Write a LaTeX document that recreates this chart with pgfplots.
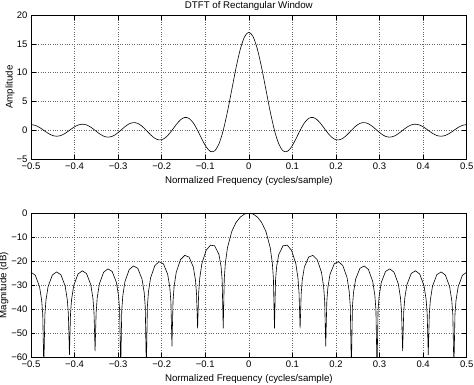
\documentclass[border=0pt]{standalone}
\usepackage{fontspec}
\setmainfont{Liberation Sans}
\usepackage{pgfplots}
\usepackage{pgfplotstable}
\pgfplotsset{compat=1.18}

\pgfplotstableread{
f amp
-0.5 1.000
-0.490196 0.866
-0.480392 0.501
-0.470588 0
-0.460784 -0.504
-0.450980 -0.876
-0.441176 -1.017
-0.431373 -0.887
-0.421569 -0.516
-0.411765 0
-0.401961 0.525
-0.392157 0.918
-0.382353 1.072
-0.372549 0.940
-0.362745 0.550
-0.352941 0
-0.343137 -0.568
-0.333333 -1.000
-0.323529 -1.176
-0.313725 -1.039
-0.303922 -0.613
-0.294118 0
-0.284314 0.642
-0.274510 1.140
-0.264706 1.353
-0.254902 1.206
-0.245098 0.718
-0.235294 0
-0.225490 -0.768
-0.215686 -1.381
-0.205882 -1.659
-0.196078 -1.499
-0.186275 -0.905
-0.176471 0
-0.166667 1.000
-0.156863 1.831
-0.147059 2.243
-0.137255 2.072
-0.127451 1.283
-0.117647 0
-0.107843 -1.504
-0.098039 -2.857
-0.088235 -3.654
-0.078431 -3.551
-0.068627 -2.337
-0.058824 0
-0.049020 3.260
-0.039216 7.047
-0.029412 10.838
-0.019608 14.068
-0.009804 16.236
0 17
0.009804 16.236
0.019608 14.068
0.029412 10.838
0.039216 7.047
0.049020 3.260
0.058824 0
0.068627 -2.337
0.078431 -3.551
0.088235 -3.654
0.098039 -2.857
0.107843 -1.504
0.117647 0
0.127451 1.283
0.137255 2.072
0.147059 2.243
0.156863 1.831
0.166667 1.000
0.176471 0
0.186275 -0.905
0.196078 -1.499
0.205882 -1.659
0.215686 -1.381
0.225490 -0.768
0.235294 0
0.245098 0.718
0.254902 1.206
0.264706 1.353
0.274510 1.140
0.284314 0.642
0.294118 0
0.303922 -0.613
0.313725 -1.039
0.323529 -1.176
0.333333 -1.000
0.343137 -0.568
0.352941 0
0.362745 0.550
0.372549 0.940
0.382353 1.072
0.392157 0.918
0.401961 0.525
0.411765 0
0.421569 -0.516
0.431373 -0.887
0.441176 -1.017
0.450980 -0.876
0.460784 -0.504
0.470588 0
0.480392 0.501
0.490196 0.866
0.5 1.000
}\amptable

\pgfplotstableread{
f db
-0.5 -24.609
-0.490196 -25.859
-0.480392 -30.612
-0.475490 -36.32
-0.473039 -42.26
-0.470588 -65
-0.468137 -42.25
-0.465686 -36.30
-0.460784 -30.560
-0.450980 -25.759
-0.441176 -24.462
-0.431373 -25.651
-0.421569 -30.356
-0.416667 -36.05
-0.414216 -41.98
-0.411765 -59
-0.409314 -41.94
-0.406863 -35.97
-0.401961 -30.206
-0.392157 -25.352
-0.382353 -24.005
-0.372549 -25.147
-0.362745 -29.802
-0.357843 -35.45
-0.355392 -41.37
-0.352941 -57.4
-0.350490 -41.30
-0.348039 -35.32
-0.343137 -29.522
-0.333333 -24.609
-0.323529 -23.201
-0.313725 -24.277
-0.303922 -28.860
-0.299020 -34.49
-0.296569 -40.38
-0.294118 -65
-0.291667 -40.28
-0.289216 -34.29
-0.284314 -28.458
-0.274510 -23.471
-0.264706 -21.983
-0.254902 -22.982
-0.245098 -27.487
-0.240196 -33.06
-0.237745 -38.94
-0.235294 -65
-0.232843 -38.79
-0.230392 -32.77
-0.225490 -26.902
-0.215686 -21.805
-0.205882 -20.212
-0.196078 -21.093
-0.186275 -25.476
-0.181373 -30.99
-0.178922 -36.83
-0.176471 -55.5
-0.174020 -36.61
-0.171569 -30.55
-0.166667 -24.609
-0.156863 -19.355
-0.147059 -17.593
-0.137255 -18.281
-0.127451 -22.445
-0.122549 -27.84
-0.120098 -33.62
-0.117647 -48
-0.115196 -33.27
-0.112745 -27.14
-0.107843 -21.064
-0.098039 -15.491
-0.088235 -13.354
-0.078431 -13.603
-0.068627 -17.236
-0.063725 -22.29
-0.061275 -27.91
-0.058824 -48
-0.056373 -27.19
-0.053922 -20.85
-0.049020 -14.344
-0.039216 -7.649
-0.029412 -3.910
-0.019608 -1.644
-0.009804 -0.399
0 0
0.009804 -0.399
0.019608 -1.644
0.029412 -3.910
0.039216 -7.649
0.049020 -14.344
0.053922 -20.85
0.056373 -27.19
0.058824 -48
0.061275 -27.91
0.063725 -22.29
0.068627 -17.236
0.078431 -13.603
0.088235 -13.354
0.098039 -15.491
0.107843 -21.064
0.112745 -27.14
0.115196 -33.27
0.117647 -48
0.120098 -33.62
0.122549 -27.84
0.127451 -22.445
0.137255 -18.281
0.147059 -17.593
0.156863 -19.355
0.166667 -24.609
0.171569 -30.55
0.174020 -36.61
0.176471 -55.5
0.178922 -36.83
0.181373 -30.99
0.186275 -25.476
0.196078 -21.093
0.205882 -20.212
0.215686 -21.805
0.225490 -26.902
0.230392 -32.77
0.232843 -38.79
0.235294 -65
0.237745 -38.94
0.240196 -33.06
0.245098 -27.487
0.254902 -22.982
0.264706 -21.983
0.274510 -23.471
0.284314 -28.458
0.289216 -34.29
0.291667 -40.28
0.294118 -65
0.296569 -40.38
0.299020 -34.49
0.303922 -28.860
0.313725 -24.277
0.323529 -23.201
0.333333 -24.609
0.343137 -29.522
0.348039 -35.32
0.350490 -41.30
0.352941 -57.4
0.355392 -41.37
0.357843 -35.45
0.362745 -29.802
0.372549 -25.147
0.382353 -24.005
0.392157 -25.352
0.401961 -30.206
0.406863 -35.97
0.409314 -41.94
0.411765 -59
0.414216 -41.98
0.416667 -36.05
0.421569 -30.356
0.431373 -25.651
0.441176 -24.462
0.450980 -25.759
0.460784 -30.560
0.465686 -36.30
0.468137 -42.25
0.470588 -65
0.473039 -42.26
0.475490 -36.32
0.480392 -30.612
0.490196 -25.859
0.5 -24.609
}\dbtable

\pgfplotsset{
  mstyle/.style={
    scale only axis, width=435.7pt, height=144.2pt, anchor=south west,
    xmin=-0.5, xmax=0.5,
    xtick={-0.5,-0.4,-0.3,-0.2,-0.1,0,0.1,0.2,0.3,0.4,0.5},
    xticklabels={−0.5,−0.4,−0.3,−0.2,−0.1,0,0.1,0.2,0.3,0.4,0.5},
    tick align=inside, tick pos=both, ticklabel pos=left,
    major tick length=4.5pt,
    grid=major, major grid style={black!60, dotted, line width=0.5pt},
    axis line style={line width=0.7pt},
    tick style={black, line width=0.6pt},
    every tick label/.append style={font=\fontsize{9.5}{11}\selectfont},
    label style={font=\fontsize{9.7}{11}\selectfont},
    xlabel={Normalized Frequency (cycles/sample)},
    xlabel style={at={(axis description cs:0.5,-0.148)}, anchor=center},
    title style={font=\fontsize{9.7}{11}\selectfont},
  }
}

\begin{document}
\begin{tikzpicture}
\begin{axis}[mstyle, at={(31pt,224.8pt)},
  ymin=-5, ymax=20, ytick={-5,0,5,10,15,20},
  yticklabels={−5,0,5,10,15,20},
  ylabel={Amplitude},
  ylabel style={at={(axis description cs:-0.048,0.5)}, anchor=center},
  title={DTFT of Rectangular Window},
  title style={at={(axis description cs:0.5,1)}, anchor=base, yshift=1.0pt},
]
\addplot[black, line width=0.6pt, smooth, no markers] table[x=f, y=amp] {\amptable};
\end{axis}
\begin{axis}[mstyle, at={(31pt,26.7pt)},
  ymin=-60, ymax=0, ytick={-60,-50,-40,-30,-20,-10,0},
  yticklabels={−60,−50,−40,−30,−20,−10,0},
  ylabel={Magnitude (dB)},
  ylabel style={at={(axis description cs:-0.062,0.5)}, anchor=center},
]
\addplot[black, line width=0.6pt, no markers] table[x=f, y=db] {\dbtable};
\end{axis}
\pgfresetboundingbox
\path[use as bounding box] (0pt,0pt) rectangle (474pt,384pt);
\end{tikzpicture}
\end{document}
